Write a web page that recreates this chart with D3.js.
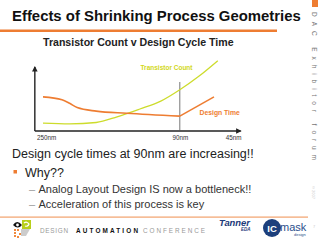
<!DOCTYPE html>
<html>
<head>
<meta charset="utf-8">
<script src="https://cdn.jsdelivr.net/npm/d3@7"></script>
<style>
  body { margin: 0; background: #fff; }
  svg { display: block; font-family: "Liberation Sans", Arial, sans-serif; }
</style>
</head>
<body>
<div id="slide"></div>
<script>
// chart values (x = position along process nodes, y = relative level)
var tickLabels = ["250nm", "90nm", "45nm"];
var tickPos = [0, 72, 100];

var transistorX = [0, 14, 28, 39, 51, 62, 72, 82, 92];
var transistorY = [11, 10, 12, 20, 31, 42, 58, 77, 99];

var designX = [0, 10, 14, 18, 28, 44, 72, 90];
var designY = [48, 44, 39, 33, 28, 25, 21, 48];

var bullets = ["Analog Layout Design IS now a bottleneck!!", "Acceleration of this process is key"];

var width = 320, height = 240;
var orange = "#ee7d32", yellow = "#cddc2c";

var svg = d3.select("#slide").append("svg")
    .attr("width", width)
    .attr("height", height);

svg.append("rect").attr("width", width).attr("height", height).attr("fill", "#fff");

// title + rule
svg.append("text")
    .attr("x", 12).attr("y", 21)
    .style("font-size", "14.9px").style("font-weight", "bold").style("fill", "#111")
    .text("Effects of Shrinking Process Geometries");

svg.append("rect")
    .attr("x", 0).attr("y", 29.5).attr("width", 277).attr("height", 2.5)
    .attr("fill", orange);

svg.append("rect")
    .attr("x", 312).attr("y", 0).attr("width", 6).attr("height", 7)
    .attr("fill", orange);

// side label
svg.append("text")
    .attr("transform", "translate(312,12) rotate(90)")
    .attr("textLength", 148).attr("lengthAdjust", "spacing")
    .style("font-size", "6.5px").style("fill", "#777")
    .text("DAC Exhibitor forum");

svg.append("text")
    .attr("transform", "translate(312,186) rotate(90)")
    .style("font-size", "4px").style("fill", "#ccc")
    .text("© 2007");

svg.append("text")
    .attr("x", 313).attr("y", 228)
    .style("font-size", "4px").style("fill", "#ccc")
    .text("7");

// chart subtitle
svg.append("text")
    .attr("x", 43).attr("y", 46)
    .style("font-size", "10.6px").style("font-weight", "bold").style("fill", "#222")
    .text("Transistor Count v Design Cycle Time");

var x = d3.scaleLinear().domain([0, 100]).range([43, 233]);
var y = d3.scaleLinear().domain([0, 100]).range([131, 60]);

var defs = svg.append("defs");
defs.append("marker")
    .attr("id", "arrow")
    .attr("viewBox", "0 0 10 10")
    .attr("refX", 8).attr("refY", 5)
    .attr("markerWidth", 4).attr("markerHeight", 4)
    .attr("orient", "auto")
    .append("path")
    .attr("d", "M0,0L10,5L0,10z")
    .attr("fill", "#222");

var chart = svg.append("g");

// axes with arrows
chart.append("line")
    .attr("x1", x(-4.3)).attr("x2", x(-4.3))
    .attr("y1", y(0)).attr("y2", y(90))
    .attr("stroke", "#222").attr("stroke-width", 1.4)
    .attr("marker-end", "url(#arrow)");

chart.append("line")
    .attr("x1", x(-4.3)).attr("x2", x(104))
    .attr("y1", y(0)).attr("y2", y(0))
    .attr("stroke", "#222").attr("stroke-width", 1.4)
    .attr("marker-end", "url(#arrow)");

// 90nm marker
chart.append("line")
    .attr("x1", x(72)).attr("x2", x(72))
    .attr("y1", y(0)).attr("y2", y(69))
    .attr("stroke", "#555").attr("stroke-width", 0.8);

var lineGen = d3.line()
    .curve(d3.curveMonotoneX)
    .x(function(d) { return x(d[0]); })
    .y(function(d) { return y(d[1]); });

chart.append("path")
    .datum(d3.zip(transistorX, transistorY))
    .attr("fill", "none")
    .attr("stroke", yellow).attr("stroke-width", 1.3)
    .attr("d", lineGen);

// design time: smooth up to 90nm, straight climb after
var dPts = d3.zip(designX, designY);
chart.append("path")
    .datum(dPts.slice(0, 7))
    .attr("fill", "none")
    .attr("stroke", orange).attr("stroke-width", 1.6)
    .attr("d", lineGen);
chart.append("path")
    .datum(dPts.slice(6))
    .attr("fill", "none")
    .attr("stroke", orange).attr("stroke-width", 1.6)
    .attr("d", d3.line().x(function(d) { return x(d[0]); }).y(function(d) { return y(d[1]); }));

chart.append("text")
    .attr("x", x(65)).attr("y", y(86))
    .style("text-anchor", "middle")
    .style("font-size", "6.5px").style("font-weight", "bold").style("fill", "#d2d820")
    .text("Transistor Count");

chart.append("text")
    .attr("x", x(93)).attr("y", y(23))
    .style("text-anchor", "middle")
    .style("font-size", "6.8px").style("font-weight", "bold").style("fill", orange)
    .text("Design Time");

var xAxis = chart.append("g")
    .attr("transform", "translate(0," + y(0) + ")")
    .call(d3.axisBottom(x).tickValues(tickPos)
        .tickFormat(function(d, i) { return tickLabels[i]; })
        .tickSize(0).tickPadding(5));
xAxis.select("path.domain").remove();
xAxis.selectAll("text")
    .style("font-family", "Liberation Sans, Arial, sans-serif")
    .style("font-size", "6.3px").style("fill", "#333");
xAxis.selectAll("text").filter(function(d) { return d === 0; }).attr("dx", 3);

// body text
svg.append("text")
    .attr("x", 12).attr("y", 158)
    .style("font-size", "12.5px").style("fill", "#222")
    .text("Design cycle times at 90nm are increasing!!");

svg.append("rect")
    .attr("x", 13.5).attr("y", 170).attr("width", 3.5).attr("height", 3.5)
    .attr("fill", orange);

svg.append("text")
    .attr("x", 25).attr("y", 177)
    .style("font-size", "12.5px").style("fill", "#222")
    .text("Why??");

var subs = svg.selectAll(".sub")
    .data(bullets)
    .enter().append("text")
    .attr("class", "sub")
    .attr("x", 29)
    .attr("y", function(d, i) { return 193 + i * 15; })
    .style("font-size", "11px").style("fill", "#333");
subs.append("tspan").style("fill", "#999").text("–");
subs.append("tspan").attr("x", 38.5).text(function(d) { return d; });

svg.append("rect")
    .attr("x", 0).attr("y", 216.5).attr("width", 308).attr("height", 1.2)
    .attr("fill", "#f2a26c");

// footer: DAC logo
var logo = svg.append("g");
logo.append("rect").attr("x", 22).attr("y", 220).attr("width", 9).attr("height", 9).attr("fill", "#b8cf1c");
logo.append("path").attr("d", "M24,223 q3,-2 5,1 q-1,3 -4,2").attr("fill", "none").attr("stroke", "#fff").attr("stroke-width", 1.2);
logo.append("path").attr("d", "M13,225 q4,-6 9,0 q-4,5 -9,0z").attr("fill", "#111");
logo.append("circle").attr("cx", 17.5).attr("cy", 225).attr("r", 1.4).attr("fill", "#fff");
logo.append("path").attr("d", "M21,229 l9,0 l-4,7 l-5,0z").attr("fill", "#ccc");
[[14, 229], [17, 229], [14, 232], [19, 233], [14, 235], [17, 236]].forEach(function(p) {
    logo.append("rect").attr("x", p[0]).attr("y", p[1]).attr("width", 2).attr("height", 2).attr("fill", "#f08a3e");
});

svg.append("text")
    .attr("x", 40).attr("y", 233)
    .attr("textLength", 28).attr("lengthAdjust", "spacing")
    .style("font-size", "6.4px").style("fill", "#999")
    .text("DESIGN");
svg.append("text")
    .attr("x", 76).attr("y", 233)
    .attr("textLength", 62).attr("lengthAdjust", "spacing")
    .style("font-size", "6.4px").style("font-weight", "bold").style("fill", "#111")
    .text("AUTOMATION");
svg.append("text")
    .attr("x", 143).attr("y", 233)
    .attr("textLength", 62).attr("lengthAdjust", "spacing")
    .style("font-size", "6.4px").style("fill", "#999")
    .text("CONFERENCE");

// sponsor logos
svg.append("text")
    .attr("x", 219).attr("y", 226)
    .attr("textLength", 31).attr("lengthAdjust", "spacingAndGlyphs")
    .style("font-size", "8.5px").style("font-weight", "bold").style("font-style", "italic").style("fill", "#1d3b7a")
    .text("Tanner");
svg.append("text")
    .attr("x", 241).attr("y", 231)
    .style("font-size", "4.5px").style("font-weight", "bold").style("font-style", "italic").style("fill", "#1d3b7a")
    .text("EDA");

svg.append("circle").attr("cx", 272).attr("cy", 228).attr("r", 9).attr("fill", "#1c3f7c");
svg.append("text")
    .attr("x", 272).attr("y", 231.5)
    .style("text-anchor", "middle")
    .style("font-size", "9.5px").style("font-weight", "bold").style("fill", "#fff")
    .text("IC");
svg.append("text")
    .attr("x", 280).attr("y", 231)
    .style("font-size", "11px").style("fill", "#2b4f8c")
    .text("mask");
svg.append("text")
    .attr("x", 294).attr("y", 236)
    .style("font-size", "4px").style("fill", "#2b4f8c")
    .text("design");
</script>
</body>
</html>
